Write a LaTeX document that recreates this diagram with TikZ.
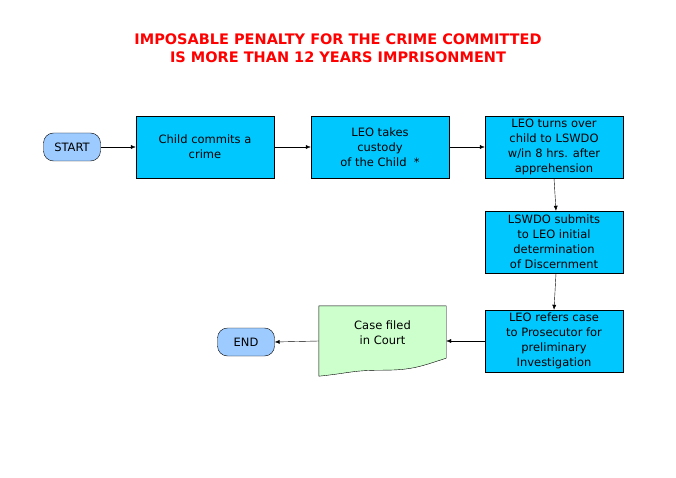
\documentclass[tikz,border=0pt]{standalone}
\usepackage{fontspec}
\setmainfont{DejaVu Sans}
\usetikzlibrary{arrows.meta,calc}
\definecolor{boxc}{HTML}{00C8FF}
\definecolor{termc}{HTML}{9DCBFF}
\definecolor{docc}{HTML}{CCFFCC}
\tikzset{
 x=1pt,y=-1pt,
 proc/.style={draw,fill=boxc,minimum width=138pt,minimum height=62pt,align=center,font=\fontsize{11.5}{15}\selectfont,inner sep=1pt},
 term/.style={draw,fill=termc,rounded corners=10pt,minimum width=57pt,minimum height=28pt,font=\fontsize{11.5}{14}\selectfont},
 conn/.style={-{Latex[length=5pt,width=4pt]},thin}
}
\begin{document}
\begin{tikzpicture}
\useasboundingbox (0,0) rectangle (676,478);
\node[text=red,font=\bfseries\fontsize{14.5}{18}\selectfont,align=center] (title) at (338,48) {IMPOSABLE PENALTY FOR THE CRIME COMMITTED\\IS MORE THAN 12 YEARS IMPRISONMENT};
\node[term] (start) at (72,147) {START};
\node[proc] (a) at (205,147) {Child commits a\\crime};
\node[proc] (b) at (380,147) {LEO takes\\custody\\of the Child \ *};
\node[proc] (c) at (554,147) {LEO turns over\\child to LSWDO\\w/in 8 hrs. after\\apprehension};
\node[proc] (d) at (554,242) {LSWDO submits\\to LEO initial\\determination\\of Discernment};
\node[proc] (e) at (554,341) {LEO refers case\\to Prosecutor for\\preliminary\\Investigation};
\node[minimum width=127pt,minimum height=70pt] (f) at (382.5,341) {};
\fill[docc,draw=black] (f.north west) -- (f.north east) -- ($(f.south east)+(0,-18)$)
  .. controls +(-25,8) and +(30,0) .. ($(f.south)+(0,-6)$)
  .. controls +(-30,0) and +(30,-3) .. (f.south west) -- cycle;
\node[align=center,font=\fontsize{11.5}{15}\selectfont] at (382.5,333) {Case filed\\in Court};
\node[term] (end) at (246,342) {END};
\draw[conn] (start) -- (a);
\draw[conn] (a) -- (b);
\draw[conn] (b) -- (c);
\draw[conn] (c.south) -- ([xshift=2pt]d.north);
\draw[conn] ([xshift=2pt]d.south) -- (e.north);
\draw[conn] (e.west) -- (f.east);
\draw[conn] (f.west) -- (end.east);
\end{tikzpicture}
\end{document}
